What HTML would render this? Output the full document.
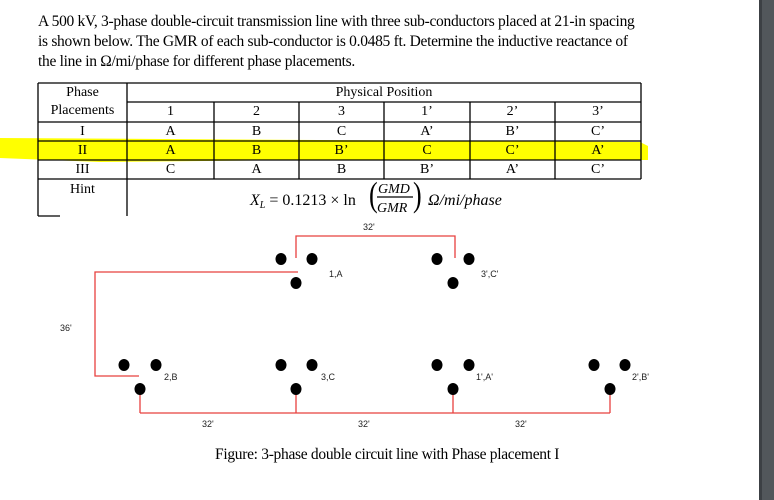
<!DOCTYPE html>
<html><head><meta charset="utf-8"><style>
body{margin:0;width:774px;height:500px;background:#fff;position:relative;overflow:hidden;font-family:"Liberation Serif",serif;}
.p{position:absolute;left:38px;font-size:15.5px;line-height:20px;color:#000;white-space:nowrap;letter-spacing:-0.3px}
.t{position:absolute;font-size:14px;color:#000;text-align:center;line-height:19px}
</style></head><body>
<div class="p" style="top:12px">A 500 kV, 3-phase double-circuit transmission line with three sub-conductors placed at 21-in spacing</div>
<div class="p" style="top:32px">is shown below. The GMR of each sub-conductor is 0.0485 ft. Determine the inductive reactance of</div>
<div class="p" style="top:52px">the line in Ω/mi/phase for different phase placements.</div>
<svg width="774" height="500" style="position:absolute;left:0;top:0">
<polygon points="0,138 640,142 648,146 648,160 300,160 100,162 0,158" fill="#ffff00"/>
<g stroke="#000" stroke-width="1.3" fill="none">
<line x1="38" y1="83" x2="641" y2="83"/>
<line x1="127" y1="102" x2="641" y2="102"/>
<line x1="38" y1="122" x2="641" y2="122"/>
<line x1="38" y1="141" x2="641" y2="141"/>
<line x1="38" y1="160" x2="641" y2="160"/>
<line x1="38" y1="179" x2="641" y2="179"/>
<line x1="38" y1="83" x2="38" y2="216"/>
<line x1="127" y1="83" x2="127" y2="216"/>
<line x1="641" y1="83" x2="641" y2="179"/>
<line x1="38" y1="216" x2="60" y2="216"/>
<line x1="214" y1="102" x2="214" y2="179"/>
<line x1="299" y1="102" x2="299" y2="179"/>
<line x1="384" y1="102" x2="384" y2="179"/>
<line x1="470" y1="102" x2="470" y2="179"/>
<line x1="555" y1="102" x2="555" y2="179"/>
</g>
<g stroke="#e8403f" stroke-width="1.3" fill="none">
<polyline points="296,258 296,236 455,236 455,258"/>
<polyline points="298,272 95,272 95,376 139,376"/>
<line x1="140" y1="390" x2="140" y2="413"/><line x1="296" y1="390" x2="296" y2="413"/>
<line x1="453" y1="390" x2="453" y2="413"/><line x1="610" y1="390" x2="610" y2="413"/>
<line x1="140" y1="413" x2="610" y2="413"/>
</g>
<g fill="#000">
<ellipse cx="281" cy="259" rx="5.5" ry="6"/><ellipse cx="312" cy="259" rx="5.5" ry="6"/><ellipse cx="296" cy="283" rx="5.5" ry="6"/>
<ellipse cx="437" cy="259" rx="5.5" ry="6"/><ellipse cx="469" cy="259" rx="5.5" ry="6"/><ellipse cx="453" cy="283" rx="5.5" ry="6"/>
<ellipse cx="124" cy="365" rx="5.5" ry="6"/><ellipse cx="156" cy="365" rx="5.5" ry="6"/><ellipse cx="140" cy="389" rx="5.5" ry="6"/>
<ellipse cx="281" cy="365" rx="5.5" ry="6"/><ellipse cx="312" cy="365" rx="5.5" ry="6"/><ellipse cx="296" cy="389" rx="5.5" ry="6"/>
<ellipse cx="437" cy="365" rx="5.5" ry="6"/><ellipse cx="469" cy="365" rx="5.5" ry="6"/><ellipse cx="453" cy="389" rx="5.5" ry="6"/>
<ellipse cx="594" cy="365" rx="5.5" ry="6"/><ellipse cx="625" cy="365" rx="5.5" ry="6"/><ellipse cx="610" cy="389" rx="5.5" ry="6"/>
</g>
<g font-family="Liberation Sans, sans-serif" font-size="9" fill="#222">
<text x="329" y="277">1,A</text><text x="481" y="277">3',C'</text>
<text x="164" y="380">2,B</text><text x="321" y="380">3,C</text><text x="476" y="380">1',A'</text><text x="632" y="380">2',B'</text>
<text x="60" y="331">36'</text>
<text x="363" y="230">32'</text>
<text x="202" y="427">32'</text><text x="358" y="427">32'</text><text x="515" y="427">32'</text>
</g>
<g font-family="Liberation Serif, serif" font-size="16" font-style="italic" fill="#000">
<text x="250" y="205">X<tspan font-size="10" dy="3">L</tspan><tspan dy="-3" font-style="normal"> = 0.1213 × ln</tspan></text>
<text x="0" y="0" font-size="26" font-style="normal" transform="translate(369,206) scale(1,1.35)">(</text>
<text x="378" y="193" font-size="14">GMD</text>
<line x1="377" y1="197" x2="413" y2="197" stroke="#000" stroke-width="1.2"/>
<text x="377" y="212" font-size="14">GMR</text>
<text x="0" y="0" font-size="26" font-style="normal" transform="translate(413,206) scale(1,1.35)">)</text>
<text x="428" y="205">Ω/mi/phase</text>
</g>
<rect x="759" y="0" width="15" height="500" fill="#52575b"/>
<rect x="759" y="0" width="3" height="500" fill="#3c4044"/>
</svg>
<div class="t" style="left:38px;top:84px;width:89px;line-height:18px">Phase<br>Placements</div>
<div class="t" style="left:127px;top:83px;width:514px">Physical Position</div>
<div class="t" style="left:127px;top:102px;width:87px">1</div><div class="t" style="left:214px;top:102px;width:85px">2</div><div class="t" style="left:299px;top:102px;width:85px">3</div><div class="t" style="left:384px;top:102px;width:86px">1’</div><div class="t" style="left:470px;top:102px;width:85px">2’</div><div class="t" style="left:555px;top:102px;width:86px">3’</div>
<div class="t" style="left:38px;top:122px;width:89px">I</div>
<div class="t" style="left:127px;top:122px;width:87px">A</div><div class="t" style="left:214px;top:122px;width:85px">B</div><div class="t" style="left:299px;top:122px;width:85px">C</div><div class="t" style="left:384px;top:122px;width:86px">A’</div><div class="t" style="left:470px;top:122px;width:85px">B’</div><div class="t" style="left:555px;top:122px;width:86px">C’</div>
<div class="t" style="left:38px;top:141px;width:89px">II</div>
<div class="t" style="left:127px;top:141px;width:87px">A</div><div class="t" style="left:214px;top:141px;width:85px">B</div><div class="t" style="left:299px;top:141px;width:85px">B’</div><div class="t" style="left:384px;top:141px;width:86px">C</div><div class="t" style="left:470px;top:141px;width:85px">C’</div><div class="t" style="left:555px;top:141px;width:86px">A’</div>
<div class="t" style="left:38px;top:160px;width:89px">III</div>
<div class="t" style="left:127px;top:160px;width:87px">C</div><div class="t" style="left:214px;top:160px;width:85px">A</div><div class="t" style="left:299px;top:160px;width:85px">B</div><div class="t" style="left:384px;top:160px;width:86px">B’</div><div class="t" style="left:470px;top:160px;width:85px">A’</div><div class="t" style="left:555px;top:160px;width:86px">C’</div>
<div class="t" style="left:38px;top:180px;width:89px">Hint</div>
<div class="p" style="left:215px;top:445px">Figure: 3-phase double circuit line with Phase placement I</div>
</body></html>
